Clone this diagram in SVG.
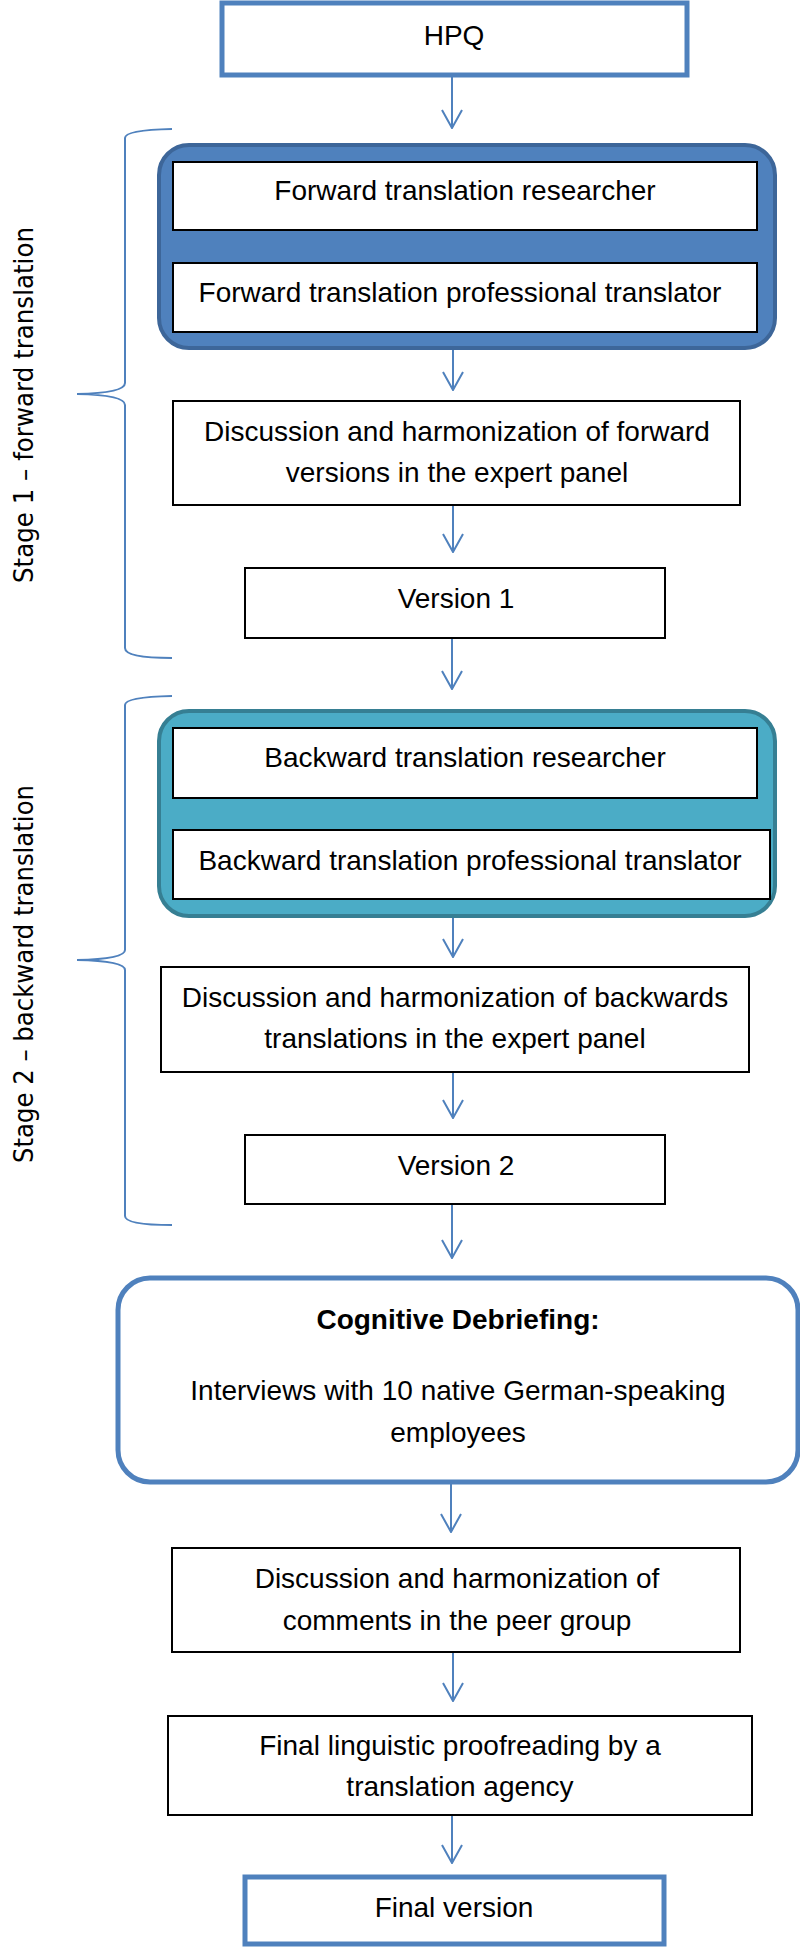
<svg xmlns="http://www.w3.org/2000/svg" width="800" height="1948" viewBox="0 0 800 1948">
<style>
text{font-family:"Liberation Sans",Arial,sans-serif;font-size:28px;fill:#000;text-anchor:middle}
.box{fill:#fff;stroke:#000;stroke-width:2}
.blue{fill:#fff;stroke:#4f81bd;stroke-width:5}
.con{fill:none;stroke:#4f81bd;stroke-width:2}
.stage{font-family:"DejaVu Sans",Verdana,sans-serif;font-size:26px}
</style>
<defs>
<marker id="arr" markerWidth="20" markerHeight="22" refX="19" refY="11" orient="auto" markerUnits="userSpaceOnUse" viewBox="0 0 20 22">
<path d="M1,1 L19,11 L1,21" fill="none" stroke="#4f81bd" stroke-width="2"/>
</marker>
</defs>
<rect width="800" height="1948" fill="#fff"/>
<g id="connectors">
<line class="con" x1="452" y1="76" x2="452" y2="128" marker-end="url(#arr)"/>
<line class="con" x1="453" y1="350" x2="453" y2="390" marker-end="url(#arr)"/>
<line class="con" x1="453" y1="505" x2="453" y2="552" marker-end="url(#arr)"/>
<line class="con" x1="452" y1="638" x2="452" y2="689" marker-end="url(#arr)"/>
<line class="con" x1="453" y1="917" x2="453" y2="957" marker-end="url(#arr)"/>
<line class="con" x1="453" y1="1072" x2="453" y2="1118" marker-end="url(#arr)"/>
<line class="con" x1="452" y1="1204" x2="452" y2="1258" marker-end="url(#arr)"/>
<line class="con" x1="451" y1="1482" x2="451" y2="1532" marker-end="url(#arr)"/>
<line class="con" x1="453" y1="1652" x2="453" y2="1701" marker-end="url(#arr)"/>
<line class="con" x1="452" y1="1815" x2="452" y2="1863" marker-end="url(#arr)"/>
</g>
<g id="brace1">
<path class="con" d="M172,129 Q125,130 125,138 L125,383 Q125,393 77,394 Q125,395 125,405 L125,648 Q125,658 172,658"/>
<text class="stage" transform="translate(33,405) rotate(-90)" textLength="356" lengthAdjust="spacingAndGlyphs">Stage 1 – forward translation</text>
</g>
<g id="brace2">
<path class="con" d="M172,696 Q125,697 125,705 L125,950 Q125,959 77,960 Q125,961 125,970 L125,1216 Q125,1225 172,1225"/>
<text class="stage" transform="translate(33,974) rotate(-90)" textLength="378" lengthAdjust="spacingAndGlyphs">Stage 2 – backward translation</text>
</g>
<g id="hpq"><rect class="blue" x="222" y="3" width="465" height="72"/><text x="454" y="45">HPQ</text></g>
<g id="forward-group">
<rect x="159" y="145" width="616" height="203" rx="30" fill="#4f81bd" stroke="#3d6699" stroke-width="4"/>
<g id="fw1"><rect class="box" x="173" y="162" width="584" height="68"/><text x="465" y="200">Forward translation researcher</text></g>
<g id="fw2"><rect class="box" x="173" y="263" width="584" height="69"/><text x="460" y="302">Forward translation professional translator</text></g>
</g>
<g id="disc1"><rect class="box" x="173" y="401" width="567" height="104"/><text x="457" y="441">Discussion and harmonization of forward</text><text x="457" y="482">versions in the expert panel</text></g>
<g id="v1"><rect class="box" x="245" y="568" width="420" height="70"/><text x="456" y="608">Version 1</text></g>
<g id="backward-group">
<rect x="159" y="711" width="616" height="205" rx="30" fill="#4bacc6" stroke="#367f93" stroke-width="4"/>
<g id="bw1"><rect class="box" x="173" y="728" width="584" height="70"/><text x="465" y="767">Backward translation researcher</text></g>
<g id="bw2"><rect class="box" x="173" y="830" width="597" height="69"/><text x="470" y="870">Backward translation professional translator</text></g>
</g>
<g id="disc2"><rect class="box" x="161" y="967" width="588" height="105"/><text x="455" y="1007">Discussion and harmonization of backwards</text><text x="455" y="1048">translations in the expert panel</text></g>
<g id="v2"><rect class="box" x="245" y="1135" width="420" height="69"/><text x="456" y="1175">Version 2</text></g>
<g id="cognitive">
<rect class="blue" x="118" y="1278" width="680" height="204" rx="32"/>
<text x="458" y="1329" font-weight="bold">Cognitive Debriefing:</text>
<text x="458" y="1400">Interviews with 10 native German-speaking</text>
<text x="458" y="1442">employees</text>
</g>
<g id="disc3"><rect class="box" x="172" y="1548" width="568" height="104"/><text x="457" y="1588">Discussion and harmonization of</text><text x="457" y="1630">comments in the peer group</text></g>
<g id="proof"><rect class="box" x="168" y="1716" width="584" height="99"/><text x="460" y="1755">Final linguistic proofreading by a</text><text x="460" y="1796">translation agency</text></g>
<g id="final"><rect class="blue" x="245" y="1877" width="419" height="67"/><text x="454" y="1917">Final version</text></g>
</svg>
